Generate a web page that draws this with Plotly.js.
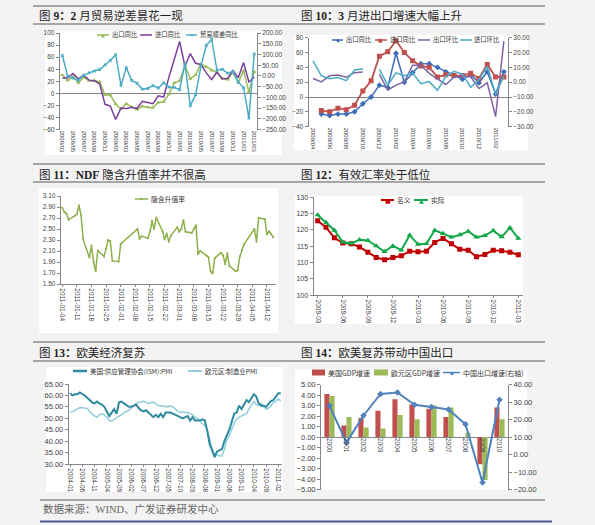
<!DOCTYPE html>
<html><head><meta charset="utf-8">
<script src="https://cdn.plot.ly/plotly-3.0.1.min.js"></script>
<style>html,body{margin:0;padding:0;background:#f3f3f3;}#chart{width:595px;height:525px;}</style>
</head><body><div id="chart"></div>
<script>
// ---------- Panel 1 (图9) ----------
const p1Months = ['2008/03','2008/04','2008/05','2008/06','2008/07','2008/08','2008/09','2008/10','2008/11','2008/12','2009/01','2009/02','2009/03','2009/04','2009/05','2009/06','2009/07','2009/08','2009/09','2009/10','2009/11','2009/12','2010/01','2010/02','2010/03','2010/04','2010/05','2010/06','2010/07','2010/08','2010/09','2010/10','2010/11','2010/12','2011/01','2011/02','2011/03'];
const p1Ticks = ['2008/03','2008/05','2008/07','2008/09','2008/11','2009/01','2009/03','2009/05','2009/07','2009/09','2009/11','2010/01','2010/03','2010/05','2010/07','2010/09','2010/11','2011/01','2011/03'];
const p1Export = [30.6,21.8,28.1,17.6,26.9,21.1,21.5,19.2,-2.2,-2.8,-17.5,-25.7,-17.1,-22.6,-26.4,-21.4,-23.0,-23.4,-15.2,-13.8,-1.2,17.7,21.0,45.7,24.3,30.5,48.5,43.9,38.1,34.4,25.1,22.9,34.9,17.9,37.7,2.4,35.8];
const p1Import = [25,26,33,24,30,22,21,16,-18,-21,-43,-24,-25,-23,-25,-13,-15,-17,-4,-6,27,56,86,45,66,50,48,34,23,35,24,25,38,26,51,19,27];
const p1Trade = [95,-1,-10,-20,4,15,23,30,52,72,99,-44,39,-21,-34,-61,-58,-45,-56,-32,-52,-53,-64,57,-139,-87,46,142,170,27,31,13,20,-29,-54,-196,102];
// ---------- Panel 2 (图10) ----------
const p2Months = ['2009/04','2009/05','2009/06','2009/07','2009/08','2009/09','2009/10','2009/11','2009/12','2010/01','2010/02','2010/03','2010/04','2010/05','2010/06','2010/07','2010/08','2010/09','2010/10','2010/11','2010/12','2011/01','2011/02','2011/03'];
const p2Ticks = ['2009/04','2009/06','2009/08','2009/10','2009/12','2010/02','2010/04','2010/06','2010/08','2010/10','2010/12','2011/02'];
const p2ExportYoy = [null,-23,-25,-23,-23,-20,-9,0,16,13,59,20,33,45,45,40,34,29,24,30,19,34,4,34];
const p2ImportYoy = [null,-18,-20,-15,-17,-11,8,22,55,61,76,60,49,42,40,27,30,29,29,32,25,44,27,27];
const p2ExportMom = [2.5,0.2,4.3,4.9,3.3,6.4,6.9,null,5.3,-5.4,-2.0,0.2,11.4,11.4,6.0,2.0,-1.5,3.6,4.0,3.7,-4.3,-0.4,-23.2,27.6];
const p2ImportMom = [14.3,4.3,2.4,3.2,1.0,8.2,9.1,null,8.7,-2.0,6.3,4.4,6.2,-1.0,0.4,-5.4,3.8,7.4,5.4,-3.4,1.8,10.7,-8.2,4.2];
// ---------- Panel 3 (图11) ----------
const p3Dates = ['2011-01-04','2011-01-05','2011-01-06','2011-01-07','2011-01-10','2011-01-11','2011-01-12','2011-01-13','2011-01-14','2011-01-17','2011-01-18','2011-01-19','2011-01-20','2011-01-21','2011-01-24','2011-01-25','2011-01-26','2011-01-27','2011-01-28','2011-01-31','2011-02-01','2011-02-09','2011-02-10','2011-02-11','2011-02-14','2011-02-15','2011-02-16','2011-02-17','2011-02-18','2011-02-21','2011-02-22','2011-02-23','2011-02-24','2011-02-25','2011-02-28','2011-03-01','2011-03-02','2011-03-03','2011-03-04','2011-03-07','2011-03-08','2011-03-09','2011-03-10','2011-03-11','2011-03-14','2011-03-15','2011-03-16','2011-03-17','2011-03-18','2011-03-21','2011-03-22','2011-03-23','2011-03-24','2011-03-25','2011-03-28','2011-03-29','2011-03-30','2011-03-31','2011-04-01','2011-04-06','2011-04-07','2011-04-08','2011-04-11','2011-04-12','2011-04-13','2011-04-14','2011-04-15'];
const p3Values = [2.89,2.81,2.78,2.67,2.74,2.77,2.93,2.75,2.31,1.98,2.20,1.90,1.73,2.11,2.00,2.14,2.30,2.28,1.92,1.91,2.23,2.50,2.32,2.37,2.33,2.45,2.65,2.50,2.71,2.46,2.31,2.42,2.27,2.38,2.53,2.45,2.50,2.66,2.45,2.43,2.50,2.57,2.04,2.10,2.02,1.99,1.73,1.69,1.97,2.07,2.02,1.86,2.06,1.83,1.73,1.75,2.00,2.12,2.22,2.50,2.27,2.70,2.68,2.40,2.46,2.41,2.35];
const p3Ticks = ['2011-01-04','2011-01-11','2011-01-18','2011-01-25','2011-02-01','2011-02-08','2011-02-15','2011-02-22','2011-03-01','2011-03-08','2011-03-15','2011-03-22','2011-03-29','2011-04-05','2011-04-12'];
const p3YTicks = [1.5,1.7,1.9,2.1,2.3,2.5,2.7,2.9,3.1];
// ---------- Panel 4 (图12) ----------
const p4Months = ['2009-03','2009-04','2009-05','2009-06','2009-07','2009-08','2009-09','2009-10','2009-11','2009-12','2010-01','2010-02','2010-03','2010-04','2010-05','2010-06','2010-07','2010-08','2010-09','2010-10','2010-11','2010-12','2011-01','2011-02','2011-03'];
const p4Ticks = ['2009-03','2009-06','2009-09','2009-12','2010-03','2010-06','2010-09','2010-12','2011-03'];
const p4Nominal = [122.8,120.8,117.6,116.0,115.8,114.8,113.2,111.6,110.9,111.6,112.1,113.5,113.3,113.5,116.2,117.4,115.8,114.1,113.8,111.8,112.5,113.8,113.6,113.2,112.4];
const p4Real = [124.6,122.3,119.9,116.3,115.9,117.0,116.8,115.1,113.4,115.1,113.8,118.4,115.6,115.8,119.9,118.9,117.8,118.5,119.6,117.8,118.3,119.8,117.9,120.7,117.4];
// ---------- Panel 5 (图13) ----------
const p5Months = ['2004-01','2004-02','2004-03','2004-04','2004-05','2004-06','2004-07','2004-08','2004-09','2004-10','2004-11','2004-12',
'2005-01','2005-02','2005-03','2005-04','2005-05','2005-06','2005-07','2005-08','2005-09','2005-10','2005-11','2005-12',
'2006-01','2006-02','2006-03','2006-04','2006-05','2006-06','2006-07','2006-08','2006-09','2006-10','2006-11','2006-12',
'2007-01','2007-02','2007-03','2007-04','2007-05','2007-06','2007-07','2007-08','2007-09','2007-10','2007-11','2007-12',
'2008-01','2008-02','2008-03','2008-04','2008-05','2008-06','2008-07','2008-08','2008-09','2008-10','2008-11','2008-12',
'2009-01','2009-02','2009-03','2009-04','2009-05','2009-06','2009-07','2009-08','2009-09','2009-10','2009-11','2009-12',
'2010-01','2010-02','2010-03','2010-04','2010-05','2010-06','2010-07','2010-08','2010-09','2010-10','2010-11','2010-12',
'2011-01','2011-02','2011-03'];
const p5Ticks = ['2004-01','2004-06','2004-11','2005-04','2005-09','2006-02','2006-07','2006-12','2007-05','2007-10','2008-03','2008-08','2009-01','2009-06','2009-11','2010-04','2010-09','2011-02'];
const p5US = [61.0,60.0,60.5,60.5,61.3,60.8,60.0,59.0,58.0,57.0,56.5,57.3,
56.5,56.0,55.0,53.0,51.0,52.5,54.0,52.0,57.0,57.3,56.5,55.5,
55.0,55.0,55.5,56.0,54.5,53.5,53.0,53.5,52.5,51.5,50.5,51.5,
50.5,52.0,50.5,52.5,52.5,52.5,52.0,51.5,51.0,50.5,50.0,50.5,
51.0,49.0,50.5,49.0,49.0,49.0,49.5,49.0,44.5,38.5,36.0,33.0,
35.5,36.0,36.5,40.0,42.5,45.0,48.5,52.0,52.5,55.5,54.0,56.0,
58.0,57.0,59.0,60.5,59.5,56.5,55.5,55.5,55.0,56.5,57.5,58.0,
59.5,61.0,61.0];
const p5EU = [52.5,52.8,53.5,54.2,54.7,54.6,54.6,54.3,53.0,52.0,51.0,50.5,
51.5,52.0,51.5,50.5,49.0,48.7,49.5,50.5,51.0,51.5,52.5,53.0,
53.5,54.5,55.5,56.5,57.0,57.0,57.5,57.0,56.5,56.8,57.0,56.5,
55.5,55.5,55.3,55.2,55.0,55.5,55.0,54.0,53.0,52.5,52.8,52.5,
52.5,52.0,51.5,50.5,50.0,49.0,47.5,47.0,45.0,41.0,36.5,34.0,
34.0,33.5,33.5,36.5,40.5,42.5,45.5,48.0,49.5,50.5,51.0,51.5,
52.0,54.0,56.0,57.5,56.0,55.5,56.5,55.0,54.0,54.5,55.5,57.0,
57.5,58.5,57.5];
// ---------- Panel 6 (图14) ----------
const p6Years = ['2000','2001','2002','2003','2004','2005','2006','2007','2008','2009','2010'];
const p6US = [4.1,1.1,1.8,2.5,3.6,3.1,2.7,1.9,0.0,-2.6,2.8];
const p6EU = [3.9,1.9,0.9,0.8,2.1,1.7,3.0,2.8,0.4,-4.1,1.7];
const p6China = [27.8,6.8,22.3,34.6,35.4,28.4,27.2,25.7,17.3,-16.0,31.3];

// ---------- helpers ----------
const W = 595, H = 525;
const X = p => p / W;
const Y = p => 1 - p / H;
const NUM = 'Liberation Sans, Arial, Noto Sans CJK SC, sans-serif';
const CJK = 'Noto Sans CJK SC, Liberation Sans, sans-serif';
const SERIF = 'Liberation Serif, Noto Sans CJK SC, serif';
const AX = '#868686', TXT = '#404040';

function yax(top, bot, range, extra) {
  return Object.assign({domain: [Y(bot), Y(top)], range: range, showgrid: false, zeroline: false,
    showline: true, linecolor: AX, linewidth: 1, ticks: 'outside', ticklen: 3, tickcolor: AX,
    tickfont: {family: NUM, size: 6.5, color: TXT}, fixedrange: true}, extra);
}
function xax(left, right, extra) {
  return Object.assign({domain: [X(left), X(right)], showgrid: false, zeroline: false,
    showline: false, ticks: '', tickangle: 90, tickfont: {family: NUM, size: 6, color: TXT},
    fixedrange: true}, extra);
}

const shapes = [], annotations = [];
function rect(x0, y0, x1, y1, color) {
  shapes.push({type: 'rect', xref: 'paper', yref: 'paper', x0: X(x0), x1: X(x1), y0: Y(y1), y1: Y(y0),
    fillcolor: color, line: {width: 0}, layer: 'below'});
}
function hline(x0, x1, y, color, width) {
  shapes.push({type: 'line', xref: 'paper', yref: 'paper', x0: X(x0), x1: X(x1), y0: Y(y), y1: Y(y),
    line: {color: color, width: width}});
}
function text(x, y, t, font, anchor) {
  annotations.push({xref: 'paper', yref: 'paper', x: X(x), y: Y(y), text: t, showarrow: false,
    xanchor: anchor || 'left', yanchor: 'middle', font: font, borderpad: 0});
}
function legLine(x1, x2, y, color, width, sym, symSize, label, size) {
  hline(x1, x2, y, color, width);
  if (sym) text((x1 + x2) / 2, y, sym, {family: 'DejaVu Sans', size: symSize, color: color}, 'center');
  text(x2 + 1.5, y, label, {family: CJK, size: size, color: '#333'});
}
function legRect(x1, x2, y, color, label, size) {
  rect(x1, y - 3, x2, y + 3, color);
  text(x2 + 1.5, y, label, {family: CJK, size: size, color: '#333'});
}

// background panels
rect(45, 31, 282, 155, '#ffffff');
rect(294, 35, 528, 150, '#ffffff');
rect(39, 188, 278, 333, '#ffffff');
rect(295, 196, 523, 324, '#ffffff');
rect(46, 367, 283, 492, '#ffffff');
rect(295, 370, 527, 490, '#ffffff');

// section rules
[6, 24, 164, 182, 342, 361].forEach(y => hline(33, 545, y, '#8c8c8c', 1.5));
hline(40, 545, 500, '#8c8c8c', 1.5);
hline(40, 552, 521.5, '#4a5a8c', 2);

// titles
const TF = {family: SERIF, size: 11.5, color: '#222'};
text(38, 15, '图 <b>9：2</b> 月贸易逆差昙花一现', TF);
text(300, 15, '图 <b>10：3</b> 月进出口增速大幅上升', TF);
text(38, 174, '图 <b>11：NDF</b> 隐含升值率并不很高', TF);
text(300, 174, '图 <b>12：</b>有效汇率处于低位', TF);
text(38, 352, '图 <b>13：</b>欧美经济复苏', TF);
text(300, 352, '图 <b>14：</b>欧美复苏带动中国出口', TF);
text(42, 509, '数据来源：WIND、广发证券研发中心', {family: SERIF, size: 10.5, color: '#666'});

// colours
const C = {
  p1g: '#9bbb59', p1p: '#7b3f9e', p1c: '#4bacc6',
  p2b: '#3d6cb9', p2r: '#c0504d', p2p: '#8064a2', p2c: '#4bacc6',
  p3g: '#8db04a', p4r: '#c00000', p4g: '#12a84a',
  p5u: '#2f8aa0', p5e: '#92cddc',
  p6r: '#c0504d', p6g: '#9bbb59', p6b: '#4f81bd'
};

// legends
legLine(97, 109, 35, C.p1g, 1.5, '▲', 5, '出口同比', 6.3);
legLine(140, 152, 35, C.p1p, 1.5, '', 0, '进口同比', 6.3);
legLine(186, 197, 35, C.p1c, 1.5, '×', 5, '贸易顺差同比', 6.3);

legLine(332, 343, 40, C.p2b, 1.5, '◆', 5, '出口同比', 6.3);
legLine(375, 387, 40, C.p2r, 1.5, '■', 5, '进口同比', 6.3);
legLine(418, 430, 40, C.p2p, 1.5, '', 0, '出口环比', 6.3);
legLine(460, 472, 40, C.p2c, 1.5, '', 0, '进口环比', 6.3);

legLine(135, 148, 199, C.p3g, 1.5, '●', 3, '隐含升值率', 6.8);

legLine(381, 394, 200, C.p4r, 2, '■', 6, '名义', 6.8);
legLine(414, 428, 200, C.p4g, 2, '▲', 6, '实际', 6.8);

legLine(73, 87, 371, C.p5u, 2.5, '', 0, '美国:供应管理协会(ISM):PMI', 6.5);
legLine(188, 202, 371, C.p5e, 2, '', 0, '欧元区:制造业PMI', 6.5);

legRect(312, 325, 372.5, C.p6r, '美国GDP增速', 7);
legRect(374, 388, 372.5, C.p6g, '欧元区GDP增速', 7);
legLine(443, 460, 372.5, C.p6b, 1.5, '◆', 5, '中国出口增速(右轴)', 7);

// ---------- traces ----------
const traces = [
  {x: p1Months, y: p1Export, xaxis: 'x', yaxis: 'y', mode: 'lines+markers', line: {color: C.p1g, width: 1.5}, marker: {symbol: 'triangle-up', size: 4, color: C.p1g}},
  {x: p1Months, y: p1Import, xaxis: 'x', yaxis: 'y', mode: 'lines', line: {color: C.p1p, width: 1.5}},
  {x: p1Months, y: p1Trade, xaxis: 'x', yaxis: 'y7', mode: 'lines+markers', line: {color: C.p1c, width: 1.5}, marker: {symbol: 'x', size: 3, color: C.p1c}},

  {x: p2Months, y: p2ExportYoy, xaxis: 'x2', yaxis: 'y2', mode: 'lines+markers', line: {color: C.p2b, width: 1.5}, marker: {symbol: 'diamond', size: 4.5, color: C.p2b}},
  {x: p2Months, y: p2ImportYoy, xaxis: 'x2', yaxis: 'y2', mode: 'lines+markers', line: {color: C.p2r, width: 1.8}, marker: {symbol: 'square', size: 5, color: C.p2r}},
  {x: p2Months, y: p2ExportMom, xaxis: 'x2', yaxis: 'y8', mode: 'lines', line: {color: C.p2p, width: 1.5}},
  {x: p2Months, y: p2ImportMom, xaxis: 'x2', yaxis: 'y8', mode: 'lines', line: {color: C.p2c, width: 1.5}},

  {x: p3Dates, y: p3Values, xaxis: 'x3', yaxis: 'y3', mode: 'lines+markers', line: {color: C.p3g, width: 1.5}, marker: {size: 2, color: C.p3g}},

  {x: p4Months, y: p4Nominal, xaxis: 'x4', yaxis: 'y4', mode: 'lines+markers', line: {color: C.p4r, width: 2}, marker: {symbol: 'square', size: 5, color: C.p4r}},
  {x: p4Months, y: p4Real, xaxis: 'x4', yaxis: 'y4', mode: 'lines+markers', line: {color: C.p4g, width: 2}, marker: {symbol: 'triangle-up', size: 5.5, color: C.p4g}},

  {x: p5Months, y: p5EU, xaxis: 'x5', yaxis: 'y5', mode: 'lines', line: {color: C.p5e, width: 1.5}},
  {x: p5Months, y: p5US, xaxis: 'x5', yaxis: 'y5', mode: 'lines', line: {color: C.p5u, width: 2}},

  {x: p6Years, y: p6US, xaxis: 'x6', yaxis: 'y6', type: 'bar', marker: {color: C.p6r}},
  {x: p6Years, y: p6EU, xaxis: 'x6', yaxis: 'y6', type: 'bar', marker: {color: C.p6g}},
  {x: p6Years, y: p6China, xaxis: 'x6', yaxis: 'y9', mode: 'lines+markers', line: {color: C.p6b, width: 2}, marker: {symbol: 'diamond', size: 5, color: C.p6b}}
];

const fmt2 = {tickformat: '.2f'};
const layout = {
  width: W, height: H, autosize: false, margin: {l: 0, r: 0, t: 0, b: 0},
  paper_bgcolor: '#f3f3f3', plot_bgcolor: '#ffffff', showlegend: false,
  barmode: 'group', bargap: 0.4, bargroupgap: 0,
  shapes: shapes, annotations: annotations,

  xaxis: xax(59.7, 256.9, {type: 'category', range: [-0.5, 36.5], tickmode: 'array', tickvals: p1Ticks, ticktext: p1Ticks, anchor: 'y'}),
  yaxis: yax(33, 129.7, [-60, 100], {dtick: 20, zeroline: true, zerolinecolor: AX, zerolinewidth: 1, anchor: 'x'}),
  yaxis7: yax(33, 129.7, [-250, 200], Object.assign({dtick: 50, overlaying: 'y', side: 'right', anchor: 'x'}, fmt2)),

  xaxis2: xax(308.5, 508, {type: 'category', range: [-0.55, 23.5], tickmode: 'array', tickvals: p2Ticks, ticktext: p2Ticks, anchor: 'y2'}),
  yaxis2: yax(37.7, 126.7, [-40, 80], {dtick: 20, zeroline: true, zerolinecolor: AX, zerolinewidth: 1, anchor: 'x2'}),
  yaxis8: yax(37.7, 126.7, [-30, 30], Object.assign({dtick: 10, overlaying: 'y2', side: 'right', anchor: 'x2'}, fmt2)),

  xaxis3: xax(60.7, 276, {type: 'date', range: ['2011-01-03 06:00', '2011-04-16 08:00'], tickmode: 'array', tickvals: p3Ticks, ticktext: p3Ticks, showline: true, linecolor: AX, ticks: 'outside', ticklen: 2, tickcolor: AX, anchor: 'y3', tickfont: {family: NUM, size: 6.5, color: TXT}}),
  yaxis3: yax(196, 284, [1.5, 3.1], {tickmode: 'array', tickvals: p3YTicks, tickformat: '.2f', anchor: 'x3'}),

  xaxis4: xax(313.5, 522.5, {type: 'category', range: [-0.5, 24.5], tickmode: 'array', tickvals: p4Ticks, ticktext: p4Ticks, showline: true, linecolor: AX, ticks: 'outside', ticklen: 2, tickcolor: AX, anchor: 'y4', tickfont: {family: NUM, size: 6.5, color: TXT}}),
  yaxis4: yax(197.3, 295.3, [100, 130], {dtick: 5, anchor: 'x4', tickfont: {family: NUM, size: 7, color: TXT}}),

  xaxis5: xax(68.8, 282, {type: 'category', range: [-0.5, 86.5], tickmode: 'array', tickvals: p5Ticks, ticktext: p5Ticks, showline: true, linecolor: AX, ticks: 'outside', ticklen: 2, tickcolor: AX, anchor: 'y5', tickfont: {family: NUM, size: 6.5, color: TXT}}),
  yaxis5: yax(384, 464, [30, 65], Object.assign({dtick: 5, anchor: 'x5', tickfont: {family: NUM, size: 7.5, color: TXT}}, fmt2)),

  xaxis6: xax(321, 508, {type: 'category', range: [-0.5, 10.5], anchor: 'free', position: Y(437), tickfont: {family: NUM, size: 6.5, color: TXT}}),
  yaxis6: yax(384.5, 489.5, [-5, 5], Object.assign({dtick: 1, zeroline: true, zerolinecolor: AX, zerolinewidth: 1, anchor: 'x6', tickfont: {family: NUM, size: 7.5, color: TXT}}, fmt2)),
  yaxis9: yax(384.5, 489.5, [-20, 40], Object.assign({dtick: 10, overlaying: 'y6', side: 'right', anchor: 'x6', tickfont: {family: NUM, size: 7.5, color: TXT}}, fmt2))
};

Plotly.newPlot('chart', traces, layout, {displayModeBar: false, staticPlot: true});
</script></body></html>
